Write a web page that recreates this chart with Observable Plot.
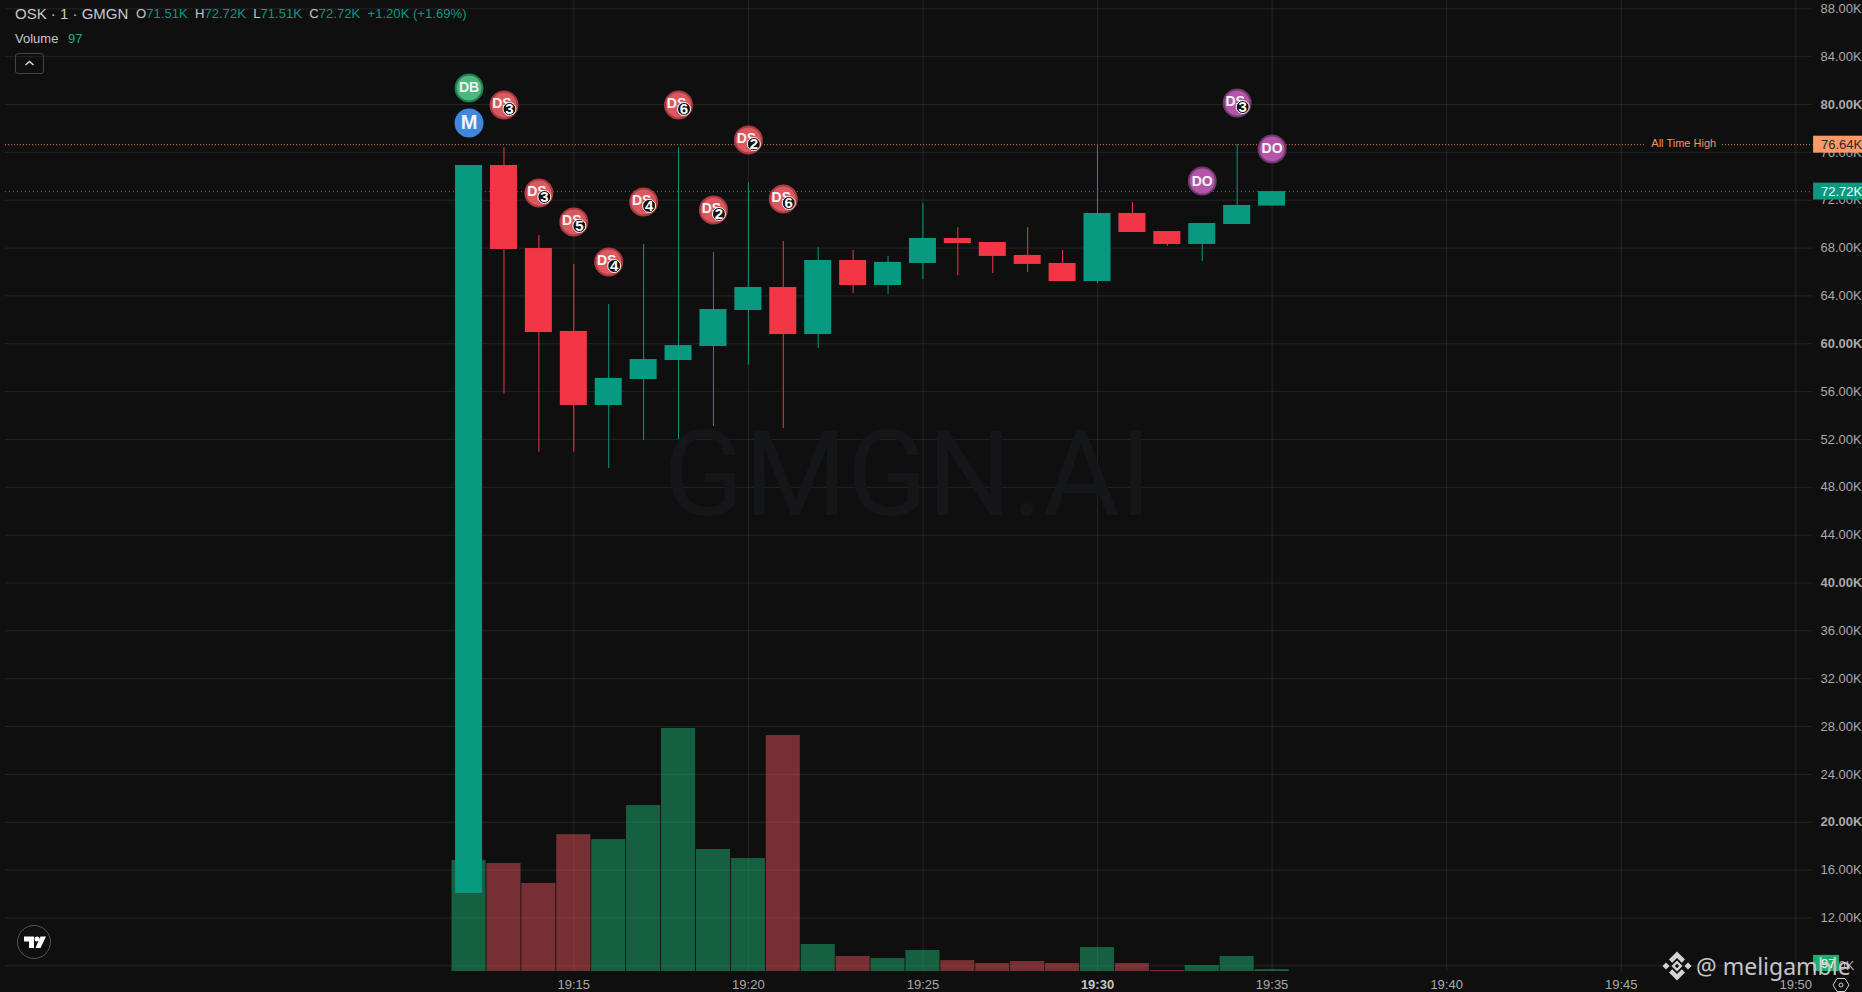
<!DOCTYPE html>
<html>
<head>
<meta charset="utf-8">
<script src="https://cdn.jsdelivr.net/npm/d3@7"></script>
<script src="https://cdn.jsdelivr.net/npm/@observablehq/plot@0.6"></script>
<style>
html,body{margin:0;padding:0;background:#0f0f0f;overflow:hidden}
#wrap{position:relative;width:1862px;height:992px;font-family:"Liberation Sans",Arial,sans-serif}
#chart svg{display:block;max-width:none}
.ov{position:absolute;white-space:nowrap}
.g{color:#089981}.w{color:#c8c8c8}
</style>
</head>
<body>
<div id="wrap">
  <div id="chart"></div>
  <div class="ov w" style="left:15px;top:5px;font-size:15px;line-height:17px">OSK · 1 · GMGN</div>
  <div class="ov w" style="left:136px;top:5px;font-size:13.1px;line-height:17px">O<span class="g">71.51K</span>&nbsp; H<span class="g">72.72K</span>&nbsp; L<span class="g">71.51K</span>&nbsp; C<span class="g">72.72K</span>&nbsp; <span class="g">+1.20K (+1.69%)</span></div>
  <div class="ov w" style="left:15px;top:30px;font-size:13px;line-height:17px">Volume</div>
  <div class="ov" style="left:68px;top:30px;font-size:13px;line-height:17px;color:#22ab6f">97</div>
  <div class="ov" style="left:15px;top:53px;width:27px;height:19px;border:1px solid #444;border-radius:3px">
    <svg width="27" height="19" viewBox="0 0 27 19" style="display:block"><path d="M9.5 11 L13.5 7.5 L17.5 11" fill="none" stroke="#ddd" stroke-width="1.4"/></svg>
  </div>
  <svg class="ov" style="left:16px;top:924px" width="36" height="36" viewBox="0 0 36 36">
    <circle cx="18" cy="18" r="16.5" fill="#0f0f0f" stroke="#555" stroke-width="1"/>
    <path d="M8 12.500H18V24H13V17.500H8z" fill="#fff"/>
    <circle cx="21" cy="15" r="2.500" fill="#fff"/>
    <path d="M24.500 12.500H30L24.500 24H19.500z" fill="#fff"/>
  </svg>
  <svg class="ov" style="left:1832px;top:976px" width="18" height="18" viewBox="0 0 18 18">
    <path d="M5 2.500h8l4 6.500-4 6.500H5L1 9z" fill="none" stroke="#ccc" stroke-width="1"/><circle cx="9" cy="9" r="2" fill="none" stroke="#ccc" stroke-width="1"/>
  </svg>
  <svg class="ov" style="left:1662px;top:951px" width="30" height="30" viewBox="0 0 30 30">
    <g fill="#d4d4d4">
      <path d="M15 0.500L23 8.500L19.800 11.700L15 6.900L10.200 11.700L7 8.500z"/>
      <path d="M15 29.500L23 21.500L19.800 18.300L15 23.100L10.200 18.300L7 21.500z"/>
      <path d="M0.500 15L4 11.500L7.500 15L4 18.500z"/>
      <path d="M22.500 15L26 11.500L29.500 15L26 18.500z"/>
      <path d="M15 9.500L20.500 15L15 20.500L9.500 15z"/>
    </g>
    <path d="M15 12.800L17.200 15L15 17.200L12.800 15z" fill="#0f0f0f"/>
  </svg>
  <div class="ov" style="left:1696px;top:949px;font-family:'Noto Sans',sans-serif;font-size:23px;line-height:34px;color:#cfcfcf;opacity:.95">@ meligamble</div>
</div>
<script>
// minutes after 19:00
const times   = [12,13,14,15,16,17,18,19,20,21,22,23,24,25,26,27,28,29,30,31,32,33,34,35];
// prices in thousands
const opens   = [14.05,74.90,67.96,61.03,54.84,57.01,58.60,59.77,62.78,64.70,60.77,66.96,64.87,66.71,68.80,68.46,67.38,66.71,65.20,70.89,69.38,68.30,69.97,71.51];
const highs   = [74.90,76.38,69.05,66.63,63.28,68.30,76.38,67.63,73.45,68.55,68.05,67.80,67.30,71.73,69.72,68.46,69.72,67.80,76.66,71.81,69.38,70.05,76.66,72.72];
const lows    = [14.05,55.78,50.93,50.93,49.57,51.91,52.00,53.08,58.21,52.92,59.60,64.20,64.12,65.37,65.70,65.87,65.95,65.20,65.04,69.30,68.13,66.88,69.97,71.51];
const closes  = [74.90,67.88,60.94,54.84,57.10,58.68,59.85,62.86,64.70,60.77,66.96,64.87,66.80,68.80,68.38,67.30,66.63,65.20,70.89,69.30,68.30,70.05,71.56,72.72];
const volumes = [5380,5240,4270,6640,6400,8050,11790,5920,5480,11450,1310,730,630,1020,530,390,485,390,1165,390,50,290,730,97];

const badgeTimes  = [12,12,13,14,15,16,17,18,19,20,21,33,34,35];
const badgePrices = [81.34,78.41,79.92,72.56,70.14,66.79,71.81,79.92,71.14,76.99,72.06,73.56,80.08,76.24];
const badgeKinds  = ["DB","M","DS","DS","DS","DS","DS","DS","DS","DS","DS","DO","DS","DO"];
const badgeCounts = ["","","3","3","5","4","4","6","2","2","6","","3",""];
const badgeColors = ["#4cb87f","#3d87dc","#dd585e","#dd585e","#dd585e","#dd585e","#dd585e","#dd585e","#dd585e","#dd585e","#dd585e","#b455a8","#b455a8","#b455a8"];
const badgeRings  = ["#1f7a4d","#3d87dc","#a83a40","#a83a40","#a83a40","#a83a40","#a83a40","#a83a40","#a83a40","#a83a40","#a83a40","#6f3a6b","#6f3a6b","#6f3a6b"];

const priceTicks = [88,84,76,72,68,64,56,52,48,44,36,32,28,24,16,12,8];
const boldPriceTicks = [80,60,40,20];
const timeTicks = [15,20,25,35,40,45,50];
const boldTimeTicks = [30];

const athValue = 76.64, lastValue = 72.72, lastVolumeLabel = "97";
const athLabel = "All Time High";
const watermark = "GMGN.AI";

const BG="#0f0f0f", UP="#089981", DOWN="#f23645", LABEL="#a9a9a9";
const volBase = 7.52, volPerPrice = 0.0017236;

const candles = times.map((t,i)=>({t,o:opens[i],h:highs[i],l:lows[i],c:closes[i],v:volumes[i],up:closes[i]>=opens[i]}));
const bars = candles.map(d=>({...d,top:volBase+d.v*volPerPrice}));
const badges = badgeTimes.map((t,i)=>({t,p:badgePrices[i],k:badgeKinds[i],n:badgeCounts[i],f:badgeColors[i],r:badgeRings[i]}));
const fmtP = v=>`${v.toFixed(2)}K`, fmtT = m=>`19:${String(m).padStart(2,"0")}`;
const font = '"Liberation Sans",Arial,sans-serif';
const candleHalf=.387, barHalf=.488, xEnd=50.49, xStart=-1.28, tagR=51.95;
const tagH=.71;

const plot = Plot.plot({
  width:1862,height:992,marginLeft:5,marginRight:50,marginTop:0,marginBottom:21,
  style:{background:BG,fontFamily:font,overflow:"visible"},
  x:{type:"linear",domain:[15,50],range:[573.3,1795.3]},
  y:{type:"linear",domain:[8,88],range:[965.3,8.3]},
  marks:[
    Plot.ruleY([...priceTicks,...boldPriceTicks],{stroke:"#fff",strokeOpacity:.085}),
    Plot.ruleX([...timeTicks,...boldTimeTicks],{stroke:"#fff",strokeOpacity:.085,y1:7.52,y2:88.7}),
    Plot.text([watermark],{x:24.56,y:48.8,text:d=>d,fontSize:118,fontFamily:"Roboto",fill:"#151619"}),
    Plot.rect(bars,{x1:d=>d.t-barHalf,x2:d=>d.t+barHalf,y1:volBase,y2:"top",fill:d=>d.up?"#1bb171":"#df4f57",fillOpacity:.5}),
    Plot.ruleY([{y:athValue,a:xStart,b:45.68},{y:athValue,a:47.9,b:xEnd}],{y:"y",x1:"a",x2:"b",stroke:"#e58d60",strokeDasharray:"1,2"}),
    Plot.ruleY([lastValue],{x1:xStart,x2:xEnd,stroke:UP,strokeDasharray:"1,3"}),
    Plot.text([athLabel],{x:46.79,y:athValue,text:d=>d,fill:"#f0936a",fontSize:11,dy:-1}),
    Plot.ruleX(candles,{x:"t",y1:"l",y2:"h",stroke:d=>d.up?UP:DOWN,strokeWidth:1}),
    Plot.rect(candles,{x1:d=>d.t-candleHalf,x2:d=>d.t+candleHalf,y1:"o",y2:"c",fill:d=>d.up?UP:DOWN}),
    Plot.dot(badges,{x:"t",y:"p",dy:-.5,r:13.5,fill:"f",stroke:"r",strokeWidth:2}),
    Plot.text(badges.filter(d=>d.k!=="M"&&d.n),{x:"t",y:"p",dx:-2,dy:-2,text:"k",fill:"#f4f4f4",fontWeight:"bold",fontSize:14}),
    Plot.text(badges.filter(d=>d.k!=="M"&&!d.n),{x:"t",y:"p",dy:-.5,text:"k",fill:"#f4f4f4",fontWeight:"bold",fontSize:14}),
    Plot.text(badges.filter(d=>d.k==="M"),{x:"t",y:"p",dy:-.5,text:"k",fill:"#f4f4f4",fontWeight:"bold",fontSize:20}),
    Plot.dot(badges.filter(d=>d.n),{x:"t",y:"p",dx:5.5,dy:3.5,r:6.5,fill:"#111",stroke:"#fff",strokeWidth:1}),
    Plot.text(badges.filter(d=>d.n),{x:"t",y:"p",dx:5.5,dy:3.5,text:"n",fill:"#fff",fontWeight:"bold",fontSize:15,stroke:"#111",strokeWidth:.5}),
    Plot.axisY({anchor:"right",ticks:priceTicks,tickFormat:fmtP,tickSize:0,tickPadding:8,fontSize:13,color:LABEL,label:null}),
    Plot.axisY({anchor:"right",ticks:boldPriceTicks,tickFormat:fmtP,tickSize:0,tickPadding:8,fontSize:13,fontWeight:"bold",color:LABEL,label:null}),
    Plot.axisX({anchor:"bottom",ticks:timeTicks,tickFormat:fmtT,tickSize:0,tickPadding:8,fontSize:13,color:LABEL,label:null}),
    Plot.axisX({anchor:"bottom",ticks:boldTimeTicks,tickFormat:fmtT,tickSize:0,tickPadding:8,fontSize:13,fontWeight:"bold",color:"#c4c4c4",label:null}),
    Plot.rect([athValue],{x1:xEnd+.02,x2:tagR,y1:d=>d-tagH,y2:d=>d+tagH,fill:"#fa9a6a"}),
    Plot.rect([lastValue],{x1:xEnd+.02,x2:tagR,y1:d=>d-tagH,y2:d=>d+tagH,fill:UP}),
    Plot.text([athValue],{x:xEnd+.23,y:d=>d,text:fmtP,textAnchor:"start",fill:"#2a2a2a",fontSize:13}),
    Plot.text([lastValue],{x:xEnd+.23,y:d=>d,text:fmtP,textAnchor:"start",fill:"#fff",fontSize:13}),
    Plot.rect([volBase],{x1:xEnd+.02,x2:51.25,y1:d=>d,y2:d=>d+1.35,fill:"#22ab6f"}),
    Plot.text([lastVolumeLabel],{x:xEnd+.23,y:volBase+.68,text:d=>d,textAnchor:"start",fill:"#fff",fontSize:13})
  ]
});
document.getElementById("chart").append(plot);
</script>
</body>
</html>
